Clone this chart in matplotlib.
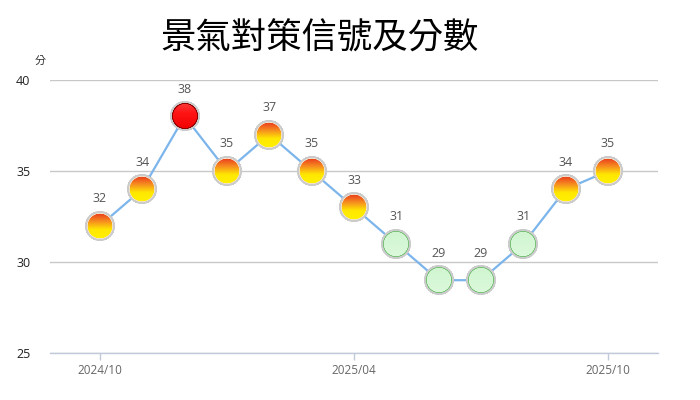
import numpy as np
import matplotlib
matplotlib.use("Agg")
import matplotlib.pyplot as plt
from matplotlib.offsetbox import OffsetImage, AnnotationBbox

plt.rcParams['font.family'] = ['Noto Sans CJK TC', 'DejaVu Sans']

# ---- data ----
months = ["2024/10", "2024/11", "2024/12", "2025/01", "2025/02", "2025/03", "2025/04",
          "2025/05", "2025/06", "2025/07", "2025/08", "2025/09", "2025/10"]
scores = [32, 34, 38, 35, 37, 35, 33, 31, 29, 29, 31, 34, 35]
signals = ["yr", "yr", "red", "yr", "yr", "yr", "yr", "green", "green", "green", "green", "yr", "yr"]
tick_labels = ["2024/10", "2025/04", "2025/10"]
y_ticks = [25, 30, 35, 40]
title = "景氣對策信號及分數"
y_unit = "分"


def hex2rgb(h):
    h = h.lstrip('#')
    return np.array([int(h[i:i + 2], 16) / 255 for i in (0, 2, 4)])


def lerp_stops(t, stops):
    pos = np.array([p for p, _ in stops])
    cols = np.array([hex2rgb(c) for _, c in stops])
    out = np.zeros(t.shape + (3,))
    for k in range(3):
        out[..., k] = np.interp(t, pos, cols[:, k])
    return out


def make_marker(kind, n=120):
    yy, xx = np.mgrid[0:n, 0:n]
    c = (n - 1) / 2
    r = np.hypot(xx - c, yy - c) / (n / 2)
    t = yy / (n - 1)  # 0 top, 1 bottom
    img = np.zeros((n, n, 4))
    aa = n / 2
    outer = np.clip((1.0 - r) * aa + 0.5, 0, 1)
    inner_edge = 0.87
    ring_col = hex2rgb('#cccccc')
    if kind == "yr":
        fill = lerp_stops(t, [(0.0, '#e83a1c'), (0.12, '#ec4a1e'), (0.35, '#f7901f'),
                              (0.62, '#ffe800'), (1.0, '#fff200')])
        edge_col = hex2rgb('#f2e2cc')
        edge_w = 0.05
    elif kind == "red":
        fill = lerp_stops(t, [(0.0, '#ff4040'), (0.4, '#ff1414'), (1.0, '#f00000')])
        edge_col = hex2rgb('#8a0000')
        edge_w = 0.07
    else:
        fill = lerp_stops(t, [(0.0, '#cff5cf'), (1.0, '#dcf9dc')])
        edge_col = hex2rgb('#78c478')
        edge_w = 0.06
    edge = np.clip((inner_edge - r) * aa + 0.5, 0, 1) - np.clip((inner_edge - edge_w - r) * aa + 0.5, 0, 1)
    core = np.clip((inner_edge - edge_w - r) * aa + 0.5, 0, 1)
    ring = outer - np.clip((inner_edge - r) * aa + 0.5, 0, 1)
    rgb = ring_col[None, None, :] * ring[..., None] \
        + edge_col[None, None, :] * edge[..., None] \
        + fill * core[..., None]
    a = outer
    img[..., :3] = rgb / np.maximum(a[..., None], 1e-6)
    img[..., 3] = a
    return np.clip(img, 0, 1)


fig = plt.figure(figsize=(7, 4), dpi=100)
ax = fig.add_axes([50 / 700, 1 - 353 / 400, 608 / 700, 273 / 400])

x = np.arange(len(scores))
ax.plot(x, scores, color='#7cb5ec', lw=1.6, zorder=2)

marker_px = 30
imgs = {k: make_marker(k) for k in ("yr", "red", "green")}
for xi, v, s in zip(x, scores, signals):
    arr = imgs[s]
    oi = OffsetImage(arr, zoom=marker_px / arr.shape[0] * 72 / fig.dpi)
    ab = AnnotationBbox(oi, (xi, v), frameon=False, zorder=3)
    ax.add_artist(ab)
    ax.annotate(str(v), (xi, v), xytext=(0, 19.5), textcoords='offset points',
                ha='center', va='center', fontsize=9, color='#555555', zorder=4,
                family=['Open Sans', 'DejaVu Sans'])

ax.set_ylim(25, 40)
ax.set_xlim(-1.18, 13.18)
ax.set_yticks(y_ticks)
ax.set_yticklabels([str(v) for v in y_ticks], family=['Open Sans', 'DejaVu Sans'])
ax.yaxis.grid(True, color='#c8c8c8', lw=1)
ax.set_axisbelow(True)
ax.tick_params(axis='y', length=0, pad=14, labelsize=9, labelcolor='#222222')

ax.set_xticks([months.index(t) for t in tick_labels])
ax.set_xticklabels(tick_labels, family=['Open Sans', 'DejaVu Sans'])
ax.tick_params(axis='x', length=5, width=1, color='#c0cadb', pad=3,
               labelsize=8.5, labelcolor='#666666')

for sp in ('top', 'right', 'left'):
    ax.spines[sp].set_visible(False)
ax.spines['bottom'].set_color('#c0cadb')
ax.spines['bottom'].set_linewidth(1)

fig.text(320 / 700, 1 - 39 / 400, title, ha='center', va='center', fontsize=25.5,
         fontweight='light', color='black')
fig.text(40 / 700, 1 - 61 / 400, y_unit, ha='center', va='center', fontsize=8, color='#333333')

fig.savefig('out.png', dpi=100)
